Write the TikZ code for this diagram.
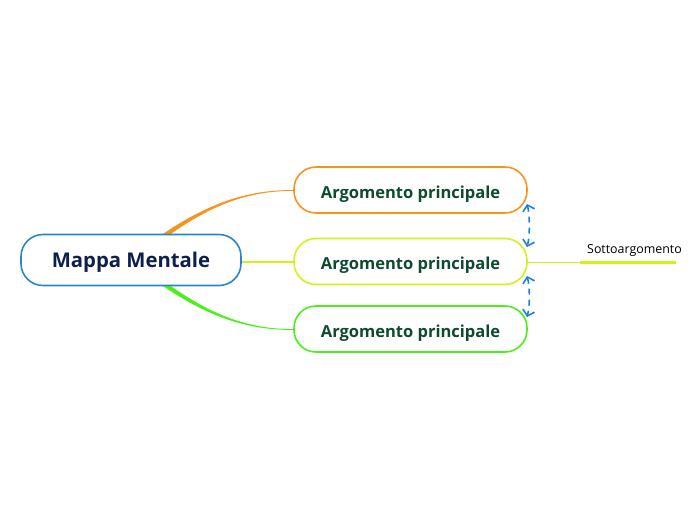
\documentclass[tikz,border=0pt]{standalone}
\usepackage{fontspec}
\setmainfont{Open Sans}
\usetikzlibrary{arrows.meta}
\definecolor{cblue}{HTML}{2A86C8}
\definecolor{corange}{HTML}{F7941D}
\definecolor{cyell}{HTML}{D4F01C}
\definecolor{cgreen}{HTML}{4CEF1A}
\definecolor{navy}{HTML}{0E1F4B}
\definecolor{dgreen}{HTML}{0D4A2E}
\definecolor{dashblue}{HTML}{1E7FE0}
\tikzset{
  pill/.style={draw, line width=1.6pt, rounded corners=22pt, fill=white, inner sep=0pt, text depth=0pt},
  mainbox/.style={pill, draw=cblue, minimum width=220pt, minimum height=51pt, text=navy, text height=15pt, font=\bfseries\fontsize{20.3}{24}\selectfont},
  topicbox/.style={pill, minimum width=233pt, minimum height=46pt, text=dgreen, text height=16pt, font=\bfseries\fontsize{16.5}{19}\selectfont},
  relarrow/.style={draw=dashblue, line width=1.6pt, dash pattern=on 6pt off 5pt, {Straight Barb[length=5.5pt,width=12pt]}-{Straight Barb[length=5.5pt,width=12pt]}},
}
\begin{document}
\begin{tikzpicture}[x=1pt,y=-1pt]
\useasboundingbox (0,0) rectangle (696,520);
% connectors
\fill[corange] (160,236) .. controls (215,198) and (255,190) .. (294,190)
  -- (294,190.8) .. controls (255,191) and (218,200) .. (168,236) -- cycle;
\fill[cgreen] (160,284) .. controls (215,322) and (255,330) .. (294,330)
  -- (294,329.2) .. controls (255,329) and (218,320) .. (168,284) -- cycle;
\node[mainbox] (m) at (131,260) {Mappa Mentale};
\node[topicbox, draw=corange] (t1) at (410.5,190) {Argomento principale};
\node[topicbox, draw=cyell] (t2) at (410.5,261.5) {Argomento principale};
\node[topicbox, draw=cgreen] (t3) at (410.5,329) {Argomento principale};
\draw[cyell, line width=1.2pt] (m.east |- 0,262) -- (t2.west |- 0,262);
% subtopic
\node[font=\fontsize{12.4}{14}\selectfont, anchor=base, inner sep=0pt] (s) at (634.5,253) {Sottoargomento};
\coordinate (sl) at (580,262);
\coordinate (sr) at (676,262);
\draw[cyell, line width=1pt] (t2.east |- 0,262) -- (sl);
\draw[cyell, line width=3pt] (sl) -- (sr);
% relations
\coordinate (r1a) at (527,204);
\coordinate (r1b) at (527,247);
\coordinate (r2a) at (527,276);
\coordinate (r2b) at (527,317);
\draw[relarrow] (r1a) .. controls (530,215) and (530,236) .. (r1b);
\draw[relarrow] (r2a) .. controls (530,287) and (530,306) .. (r2b);
\end{tikzpicture}
\end{document}
